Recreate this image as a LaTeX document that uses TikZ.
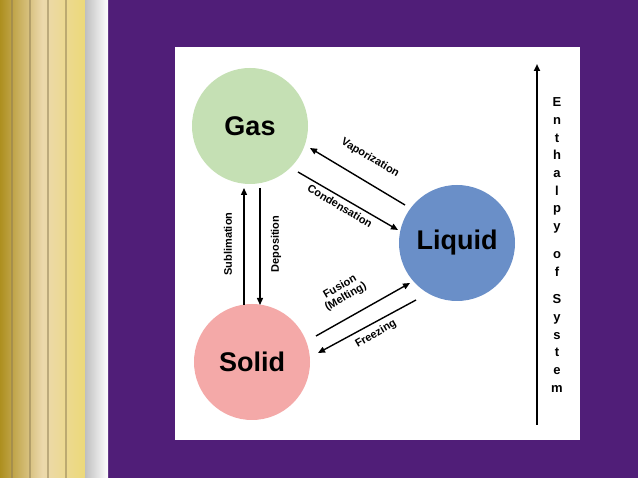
\documentclass[tikz,border=0pt]{standalone}
\usepackage{fontspec}
\setmainfont{Liberation Sans}
\usetikzlibrary{arrows.meta}
\definecolor{bgpurple}{RGB}{80,30,120}
\begin{document}
\begin{tikzpicture}[x=1pt,y=-1pt,
  phase/.style={circle,minimum size=116pt,inner sep=0pt,font=\fontsize{27}{27}\bfseries},
  arr/.style={-{Triangle[length=7pt,width=6pt]},line width=1.4pt},
  lbl/.style={font=\fontsize{11}{11.5}\bfseries,inner sep=1pt,align=center}]
\useasboundingbox (0,0) rectangle (638,478);
\fill[bgpurple] (0,0) rectangle (638,478);
\shade[left color=yellow!40!brown!80!black,right color=yellow!50!brown!60,middle color=yellow!25!brown!40] (0,0) rectangle (85,478);
\foreach \x in {12,30,48,66} \draw[yellow!30!brown!60!black,line width=2pt,opacity=.5] (\x,0) -- (\x,478);
\shade[left color=gray!50,right color=white] (85,0) rectangle (108,478);
\fill[white] (175,47) rectangle (580,440);
\node[phase,fill={rgb,255:red,197;green,224;blue,180}] (gas) at (250,126) {Gas};
\node[phase,fill={rgb,255:red,106;green,143;blue,200}] (liq) at (457,243) {Liquid};
\node[phase,fill={rgb,255:red,244;green,169;blue,168}] (sol) at (252,362) {Solid};
\coordinate (s1) at (244,305); \coordinate (s2) at (244,188);
\coordinate (d1) at (260,188); \coordinate (d2) at (260,305);
\draw[arr] (s1) -- (s2); \draw[arr] (d1) -- (d2);
\node[lbl,rotate=90] at (228,244) {Sublimation};
\node[lbl,rotate=90] at (276,244) {Deposition};
\coordinate (v1) at (405,205); \coordinate (v2) at (310,148);
\coordinate (c1) at (298,172); \coordinate (c2) at (398,230);
\draw[arr] (v1) -- (v2); \draw[arr] (c1) -- (c2);
\node[lbl,rotate=-31] at (370,158) {Vaporization};
\node[lbl,rotate=-31] at (340,206) {Condensation};
\coordinate (f1) at (316,336); \coordinate (f2) at (410,283);
\coordinate (z1) at (416,300); \coordinate (z2) at (318,353);
\draw[arr] (f1) -- (f2); \draw[arr] (z1) -- (z2);
\node[lbl,rotate=30] at (343,292) {Fusion\\(Melting)};
\node[lbl,rotate=30] at (376,334) {Freezing};
\coordinate (e1) at (537,425); \coordinate (e2) at (537,64);
\draw[arr,line width=2.2pt] (e1) -- (e2);
\node[font=\fontsize{13}{17.7}\bfseries,align=center,inner sep=0pt] at (557,245) {E\\n\\t\\h\\a\\l\\p\\y\\[10pt]o\\f\\[10pt]S\\y\\s\\t\\e\\m};
\end{tikzpicture}
\end{document}
